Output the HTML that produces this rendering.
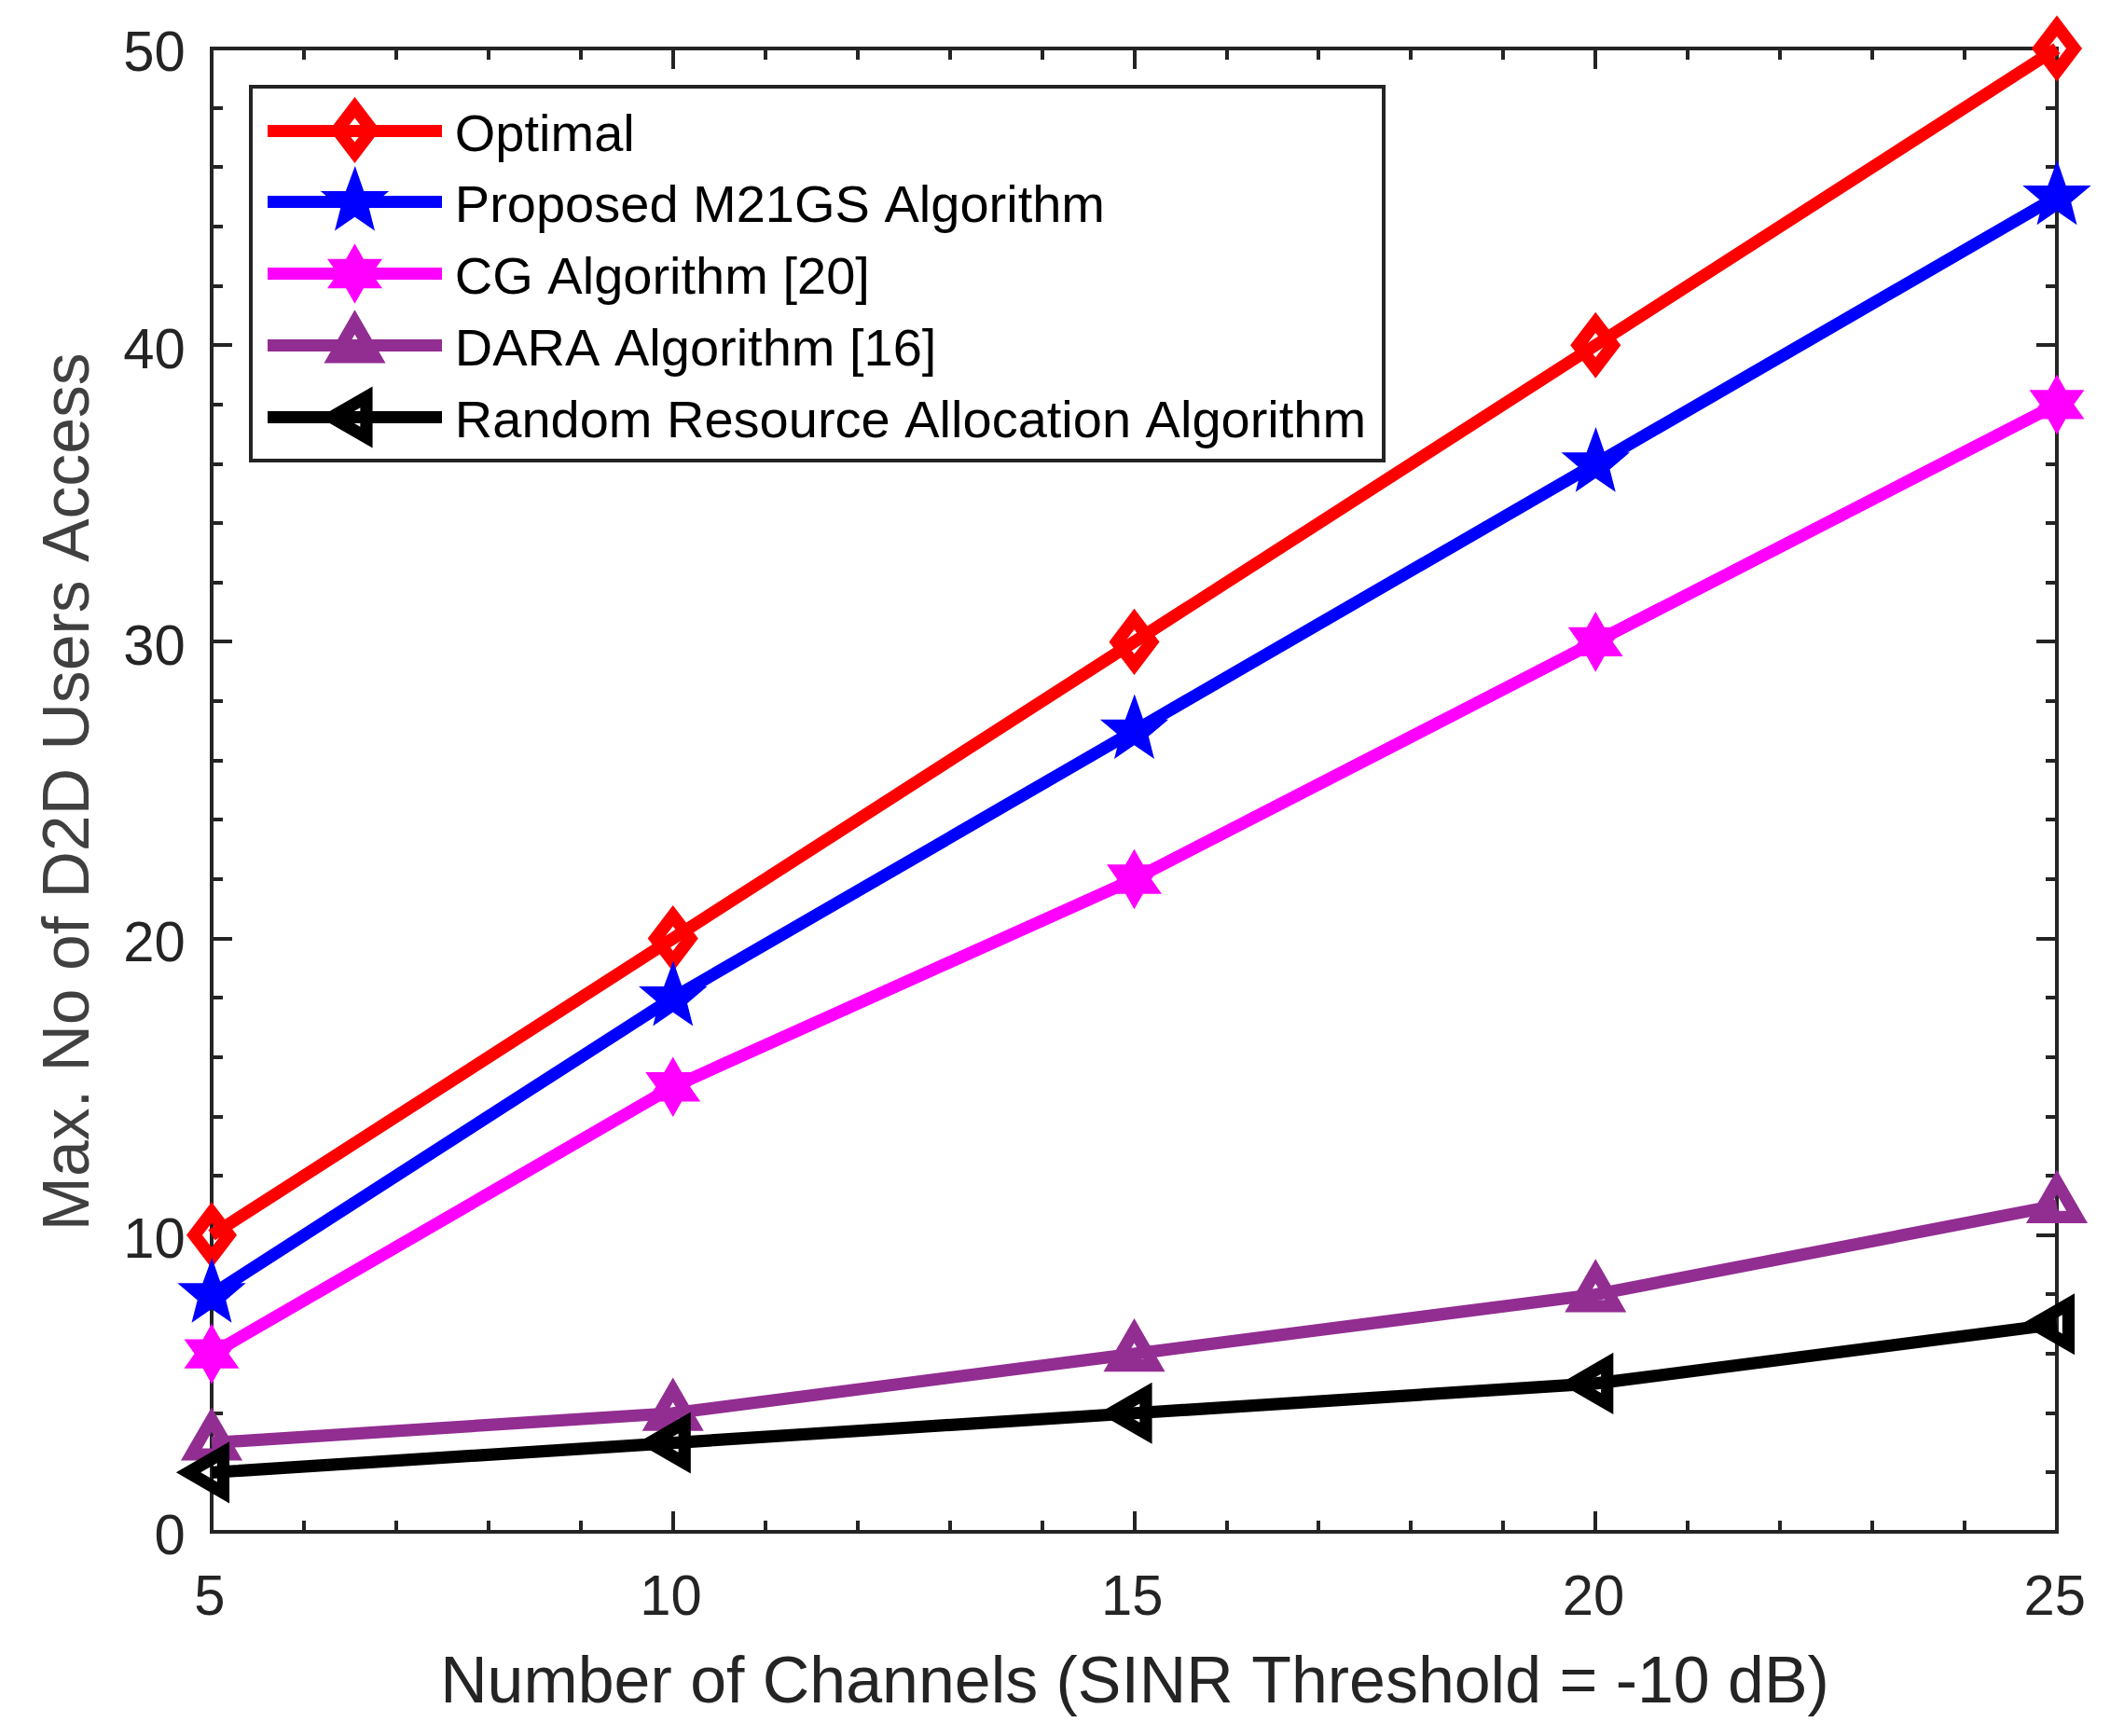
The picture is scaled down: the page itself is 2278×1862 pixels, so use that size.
<!DOCTYPE html>
<html><head><meta charset="utf-8"><title>Max. No of D2D Users Access vs Number of Channels</title>
<style>html,body{margin:0;padding:0;background:#fff;}body{width:2278px;height:1862px;overflow:hidden;}svg{display:block;}text{font-family:"Liberation Sans",Arial,sans-serif;font-kerning:none;}</style>
</head><body>
<svg width="2278" height="1862" viewBox="0 0 2278 1862">
<rect x="0" y="0" width="2278" height="1862" fill="#fff"/>
<g stroke="#242424" fill="none" shape-rendering="crispEdges">
<rect x="227.0" y="52.0" width="1979.0" height="1591.0" stroke-width="4"/>
<line x1="325.9" y1="1643.0" x2="325.9" y2="1631.0" stroke-width="4"/>
<line x1="325.9" y1="52.0" x2="325.9" y2="64.0" stroke-width="4"/>
<line x1="424.9" y1="1643.0" x2="424.9" y2="1631.0" stroke-width="4"/>
<line x1="424.9" y1="52.0" x2="424.9" y2="64.0" stroke-width="4"/>
<line x1="523.9" y1="1643.0" x2="523.9" y2="1631.0" stroke-width="4"/>
<line x1="523.9" y1="52.0" x2="523.9" y2="64.0" stroke-width="4"/>
<line x1="622.8" y1="1643.0" x2="622.8" y2="1631.0" stroke-width="4"/>
<line x1="622.8" y1="52.0" x2="622.8" y2="64.0" stroke-width="4"/>
<line x1="721.8" y1="1643.0" x2="721.8" y2="1621.0" stroke-width="4"/>
<line x1="721.8" y1="52.0" x2="721.8" y2="74.0" stroke-width="4"/>
<line x1="820.7" y1="1643.0" x2="820.7" y2="1631.0" stroke-width="4"/>
<line x1="820.7" y1="52.0" x2="820.7" y2="64.0" stroke-width="4"/>
<line x1="919.6" y1="1643.0" x2="919.6" y2="1631.0" stroke-width="4"/>
<line x1="919.6" y1="52.0" x2="919.6" y2="64.0" stroke-width="4"/>
<line x1="1018.6" y1="1643.0" x2="1018.6" y2="1631.0" stroke-width="4"/>
<line x1="1018.6" y1="52.0" x2="1018.6" y2="64.0" stroke-width="4"/>
<line x1="1117.5" y1="1643.0" x2="1117.5" y2="1631.0" stroke-width="4"/>
<line x1="1117.5" y1="52.0" x2="1117.5" y2="64.0" stroke-width="4"/>
<line x1="1216.5" y1="1643.0" x2="1216.5" y2="1621.0" stroke-width="4"/>
<line x1="1216.5" y1="52.0" x2="1216.5" y2="74.0" stroke-width="4"/>
<line x1="1315.5" y1="1643.0" x2="1315.5" y2="1631.0" stroke-width="4"/>
<line x1="1315.5" y1="52.0" x2="1315.5" y2="64.0" stroke-width="4"/>
<line x1="1414.4" y1="1643.0" x2="1414.4" y2="1631.0" stroke-width="4"/>
<line x1="1414.4" y1="52.0" x2="1414.4" y2="64.0" stroke-width="4"/>
<line x1="1513.3" y1="1643.0" x2="1513.3" y2="1631.0" stroke-width="4"/>
<line x1="1513.3" y1="52.0" x2="1513.3" y2="64.0" stroke-width="4"/>
<line x1="1612.3" y1="1643.0" x2="1612.3" y2="1631.0" stroke-width="4"/>
<line x1="1612.3" y1="52.0" x2="1612.3" y2="64.0" stroke-width="4"/>
<line x1="1711.2" y1="1643.0" x2="1711.2" y2="1621.0" stroke-width="4"/>
<line x1="1711.2" y1="52.0" x2="1711.2" y2="74.0" stroke-width="4"/>
<line x1="1810.2" y1="1643.0" x2="1810.2" y2="1631.0" stroke-width="4"/>
<line x1="1810.2" y1="52.0" x2="1810.2" y2="64.0" stroke-width="4"/>
<line x1="1909.2" y1="1643.0" x2="1909.2" y2="1631.0" stroke-width="4"/>
<line x1="1909.2" y1="52.0" x2="1909.2" y2="64.0" stroke-width="4"/>
<line x1="2008.1" y1="1643.0" x2="2008.1" y2="1631.0" stroke-width="4"/>
<line x1="2008.1" y1="52.0" x2="2008.1" y2="64.0" stroke-width="4"/>
<line x1="2107.1" y1="1643.0" x2="2107.1" y2="1631.0" stroke-width="4"/>
<line x1="2107.1" y1="52.0" x2="2107.1" y2="64.0" stroke-width="4"/>
<line x1="227.0" y1="1579.4" x2="239.0" y2="1579.4" stroke-width="4"/>
<line x1="2206.0" y1="1579.4" x2="2194.0" y2="1579.4" stroke-width="4"/>
<line x1="227.0" y1="1515.7" x2="239.0" y2="1515.7" stroke-width="4"/>
<line x1="2206.0" y1="1515.7" x2="2194.0" y2="1515.7" stroke-width="4"/>
<line x1="227.0" y1="1452.1" x2="239.0" y2="1452.1" stroke-width="4"/>
<line x1="2206.0" y1="1452.1" x2="2194.0" y2="1452.1" stroke-width="4"/>
<line x1="227.0" y1="1388.4" x2="239.0" y2="1388.4" stroke-width="4"/>
<line x1="2206.0" y1="1388.4" x2="2194.0" y2="1388.4" stroke-width="4"/>
<line x1="227.0" y1="1324.8" x2="249.0" y2="1324.8" stroke-width="4"/>
<line x1="2206.0" y1="1324.8" x2="2184.0" y2="1324.8" stroke-width="4"/>
<line x1="227.0" y1="1261.2" x2="239.0" y2="1261.2" stroke-width="4"/>
<line x1="2206.0" y1="1261.2" x2="2194.0" y2="1261.2" stroke-width="4"/>
<line x1="227.0" y1="1197.5" x2="239.0" y2="1197.5" stroke-width="4"/>
<line x1="2206.0" y1="1197.5" x2="2194.0" y2="1197.5" stroke-width="4"/>
<line x1="227.0" y1="1133.9" x2="239.0" y2="1133.9" stroke-width="4"/>
<line x1="2206.0" y1="1133.9" x2="2194.0" y2="1133.9" stroke-width="4"/>
<line x1="227.0" y1="1070.2" x2="239.0" y2="1070.2" stroke-width="4"/>
<line x1="2206.0" y1="1070.2" x2="2194.0" y2="1070.2" stroke-width="4"/>
<line x1="227.0" y1="1006.6" x2="249.0" y2="1006.6" stroke-width="4"/>
<line x1="2206.0" y1="1006.6" x2="2184.0" y2="1006.6" stroke-width="4"/>
<line x1="227.0" y1="943.0" x2="239.0" y2="943.0" stroke-width="4"/>
<line x1="2206.0" y1="943.0" x2="2194.0" y2="943.0" stroke-width="4"/>
<line x1="227.0" y1="879.3" x2="239.0" y2="879.3" stroke-width="4"/>
<line x1="2206.0" y1="879.3" x2="2194.0" y2="879.3" stroke-width="4"/>
<line x1="227.0" y1="815.7" x2="239.0" y2="815.7" stroke-width="4"/>
<line x1="2206.0" y1="815.7" x2="2194.0" y2="815.7" stroke-width="4"/>
<line x1="227.0" y1="752.0" x2="239.0" y2="752.0" stroke-width="4"/>
<line x1="2206.0" y1="752.0" x2="2194.0" y2="752.0" stroke-width="4"/>
<line x1="227.0" y1="688.4" x2="249.0" y2="688.4" stroke-width="4"/>
<line x1="2206.0" y1="688.4" x2="2184.0" y2="688.4" stroke-width="4"/>
<line x1="227.0" y1="624.8" x2="239.0" y2="624.8" stroke-width="4"/>
<line x1="2206.0" y1="624.8" x2="2194.0" y2="624.8" stroke-width="4"/>
<line x1="227.0" y1="561.1" x2="239.0" y2="561.1" stroke-width="4"/>
<line x1="2206.0" y1="561.1" x2="2194.0" y2="561.1" stroke-width="4"/>
<line x1="227.0" y1="497.5" x2="239.0" y2="497.5" stroke-width="4"/>
<line x1="2206.0" y1="497.5" x2="2194.0" y2="497.5" stroke-width="4"/>
<line x1="227.0" y1="433.8" x2="239.0" y2="433.8" stroke-width="4"/>
<line x1="2206.0" y1="433.8" x2="2194.0" y2="433.8" stroke-width="4"/>
<line x1="227.0" y1="370.2" x2="249.0" y2="370.2" stroke-width="4"/>
<line x1="2206.0" y1="370.2" x2="2184.0" y2="370.2" stroke-width="4"/>
<line x1="227.0" y1="306.6" x2="239.0" y2="306.6" stroke-width="4"/>
<line x1="2206.0" y1="306.6" x2="2194.0" y2="306.6" stroke-width="4"/>
<line x1="227.0" y1="242.9" x2="239.0" y2="242.9" stroke-width="4"/>
<line x1="2206.0" y1="242.9" x2="2194.0" y2="242.9" stroke-width="4"/>
<line x1="227.0" y1="179.3" x2="239.0" y2="179.3" stroke-width="4"/>
<line x1="2206.0" y1="179.3" x2="2194.0" y2="179.3" stroke-width="4"/>
<line x1="227.0" y1="115.6" x2="239.0" y2="115.6" stroke-width="4"/>
<line x1="2206.0" y1="115.6" x2="2194.0" y2="115.6" stroke-width="4"/>
</g>
<g fill="#242424" font-size="61.3px">
<text transform="translate(224.8,1732.3) scale(0.975,1)" text-anchor="middle">5</text>
<text transform="translate(719.5,1732.3) scale(0.975,1)" text-anchor="middle">10</text>
<text transform="translate(1214.3,1732.3) scale(0.975,1)" text-anchor="middle">15</text>
<text transform="translate(1709.0,1732.3) scale(0.975,1)" text-anchor="middle">20</text>
<text transform="translate(2203.8,1732.3) scale(0.975,1)" text-anchor="middle">25</text>
<text transform="translate(198.7,1667.4) scale(0.975,1)" text-anchor="end">0</text>
<text transform="translate(198.7,1349.2) scale(0.975,1)" text-anchor="end">10</text>
<text transform="translate(198.7,1031.0) scale(0.975,1)" text-anchor="end">20</text>
<text transform="translate(198.7,712.8) scale(0.975,1)" text-anchor="end">30</text>
<text transform="translate(198.7,394.6) scale(0.975,1)" text-anchor="end">40</text>
<text transform="translate(198.7,76.4) scale(0.975,1)" text-anchor="end">50</text>
</g>
<text x="1217" y="1826.4" text-anchor="middle" font-size="69.9px" fill="#242424">Number of Channels (SINR Threshold = -10 dB)</text>
<text transform="translate(94.9,849.2) rotate(-90)" text-anchor="middle" font-size="69.75px" fill="#404040">Max. No of D2D Users Access</text>
<polyline points="227.00,1324.80 721.75,1006.60 1216.50,688.40 1711.25,370.20 2206.00,52.00" fill="none" stroke="#ff0000" stroke-width="13.2" stroke-linejoin="round"/>
<path d="M227.00,1289.25 L254.05,1324.80 L227.00,1360.35 L199.95,1324.80 Z M227.00,1311.70 L237.00,1324.80 L227.00,1337.90 L217.00,1324.80 Z" fill="#ff0000" fill-rule="evenodd"/>
<path d="M721.75,971.05 L748.80,1006.60 L721.75,1042.15 L694.70,1006.60 Z M721.75,993.50 L731.75,1006.60 L721.75,1019.70 L711.75,1006.60 Z" fill="#ff0000" fill-rule="evenodd"/>
<path d="M1216.50,652.85 L1243.55,688.40 L1216.50,723.95 L1189.45,688.40 Z M1216.50,675.30 L1226.50,688.40 L1216.50,701.50 L1206.50,688.40 Z" fill="#ff0000" fill-rule="evenodd"/>
<path d="M1711.25,334.65 L1738.30,370.20 L1711.25,405.75 L1684.20,370.20 Z M1711.25,357.10 L1721.25,370.20 L1711.25,383.30 L1701.25,370.20 Z" fill="#ff0000" fill-rule="evenodd"/>
<path d="M2206.00,16.45 L2233.05,52.00 L2206.00,87.55 L2178.95,52.00 Z M2206.00,38.90 L2216.00,52.00 L2206.00,65.10 L2196.00,52.00 Z" fill="#ff0000" fill-rule="evenodd"/>
<polyline points="227.00,1388.44 721.75,1070.24 1216.50,783.86 1711.25,497.48 2206.00,211.10" fill="none" stroke="#0000ff" stroke-width="13.2" stroke-linejoin="round"/>
<polygon points="227.30,1349.04 236.70,1376.24 263.70,1376.24 242.30,1394.44 248.50,1418.64 227.00,1403.94 205.50,1418.64 211.70,1394.44 190.30,1376.24 217.30,1376.24" fill="#0000ff"/>
<polygon points="722.05,1030.84 731.45,1058.04 758.45,1058.04 737.05,1076.24 743.25,1100.44 721.75,1085.74 700.25,1100.44 706.45,1076.24 685.05,1058.04 712.05,1058.04" fill="#0000ff"/>
<polygon points="1216.80,744.46 1226.20,771.66 1253.20,771.66 1231.80,789.86 1238.00,814.06 1216.50,799.36 1195.00,814.06 1201.20,789.86 1179.80,771.66 1206.80,771.66" fill="#0000ff"/>
<polygon points="1711.55,458.08 1720.95,485.28 1747.95,485.28 1726.55,503.48 1732.75,527.68 1711.25,512.98 1689.75,527.68 1695.95,503.48 1674.55,485.28 1701.55,485.28" fill="#0000ff"/>
<polygon points="2206.30,171.70 2215.70,198.90 2242.70,198.90 2221.30,217.10 2227.50,241.30 2206.00,226.60 2184.50,241.30 2190.70,217.10 2169.30,198.90 2196.30,198.90" fill="#0000ff"/>
<polyline points="227.00,1452.08 721.75,1165.70 1216.50,942.96 1711.25,688.40 2206.00,433.84" fill="none" stroke="#ff00ff" stroke-width="13.2" stroke-linejoin="round"/>
<polygon points="227.00,1419.78 236.40,1436.38 256.50,1436.38 245.40,1452.08 256.50,1467.78 236.40,1467.78 227.00,1484.38 217.60,1467.78 197.50,1467.78 208.60,1452.08 197.50,1436.38 217.60,1436.38" fill="#ff00ff"/>
<polygon points="721.75,1133.40 731.15,1150.00 751.25,1150.00 740.15,1165.70 751.25,1181.40 731.15,1181.40 721.75,1198.00 712.35,1181.40 692.25,1181.40 703.35,1165.70 692.25,1150.00 712.35,1150.00" fill="#ff00ff"/>
<polygon points="1216.50,910.66 1225.90,927.26 1246.00,927.26 1234.90,942.96 1246.00,958.66 1225.90,958.66 1216.50,975.26 1207.10,958.66 1187.00,958.66 1198.10,942.96 1187.00,927.26 1207.10,927.26" fill="#ff00ff"/>
<polygon points="1711.25,656.10 1720.65,672.70 1740.75,672.70 1729.65,688.40 1740.75,704.10 1720.65,704.10 1711.25,720.70 1701.85,704.10 1681.75,704.10 1692.85,688.40 1681.75,672.70 1701.85,672.70" fill="#ff00ff"/>
<polygon points="2206.00,401.54 2215.40,418.14 2235.50,418.14 2224.40,433.84 2235.50,449.54 2215.40,449.54 2206.00,466.14 2196.60,449.54 2176.50,449.54 2187.60,433.84 2176.50,418.14 2196.60,418.14" fill="#ff00ff"/>
<polyline points="227.00,1547.54 721.75,1515.72 1216.50,1452.08 1711.25,1388.44 2206.00,1292.98" fill="none" stroke="#922d92" stroke-width="13.2" stroke-linejoin="round"/>
<path d="M227.00,1509.40 L260.03,1566.61 L193.97,1566.61 Z M227.00,1535.84 L237.13,1553.39 L216.87,1553.39 Z" fill="#922d92" fill-rule="evenodd"/>
<path d="M721.75,1477.58 L754.78,1534.79 L688.72,1534.79 Z M721.75,1504.02 L731.88,1521.57 L711.62,1521.57 Z" fill="#922d92" fill-rule="evenodd"/>
<path d="M1216.50,1413.94 L1249.53,1471.15 L1183.47,1471.15 Z M1216.50,1440.38 L1226.63,1457.93 L1206.37,1457.93 Z" fill="#922d92" fill-rule="evenodd"/>
<path d="M1711.25,1350.30 L1744.28,1407.51 L1678.22,1407.51 Z M1711.25,1376.74 L1721.38,1394.29 L1701.12,1394.29 Z" fill="#922d92" fill-rule="evenodd"/>
<path d="M2206.00,1254.84 L2239.03,1312.05 L2172.97,1312.05 Z M2206.00,1281.28 L2216.13,1298.83 L2195.87,1298.83 Z" fill="#922d92" fill-rule="evenodd"/>
<polyline points="227.00,1579.36 721.75,1547.54 1216.50,1515.72 1711.25,1483.90 2206.00,1420.26" fill="none" stroke="#000000" stroke-width="13.2" stroke-linejoin="round"/>
<path d="M188.86,1579.36 L246.07,1546.33 L246.07,1612.39 Z M215.30,1579.36 L232.85,1569.23 L232.85,1589.49 Z" fill="#000000" fill-rule="evenodd"/>
<path d="M683.61,1547.54 L740.82,1514.51 L740.82,1580.57 Z M710.05,1547.54 L727.60,1537.41 L727.60,1557.67 Z" fill="#000000" fill-rule="evenodd"/>
<path d="M1178.36,1515.72 L1235.57,1482.69 L1235.57,1548.75 Z M1204.80,1515.72 L1222.35,1505.59 L1222.35,1525.85 Z" fill="#000000" fill-rule="evenodd"/>
<path d="M1673.11,1483.90 L1730.32,1450.87 L1730.32,1516.93 Z M1699.55,1483.90 L1717.10,1473.77 L1717.10,1494.03 Z" fill="#000000" fill-rule="evenodd"/>
<path d="M2167.86,1420.26 L2225.07,1387.23 L2225.07,1453.29 Z M2194.30,1420.26 L2211.85,1410.13 L2211.85,1430.39 Z" fill="#000000" fill-rule="evenodd"/>
<rect x="269.0" y="93.0" width="1215.0" height="401.0" fill="#fff" stroke="#242424" stroke-width="4" shape-rendering="crispEdges"/>
<line x1="287" y1="140.5" x2="474" y2="140.5" stroke="#ff0000" stroke-width="13"/>
<path d="M380.50,103.95 L407.55,139.50 L380.50,175.05 L353.45,139.50 Z M380.50,126.40 L390.50,139.50 L380.50,152.60 L370.50,139.50 Z" fill="#ff0000" fill-rule="evenodd"/>
<text x="487.8" y="162.3" font-size="56px" fill="#000">Optimal</text>
<line x1="287" y1="216.5" x2="474" y2="216.5" stroke="#0000ff" stroke-width="13"/>
<polygon points="380.80,177.90 390.20,205.10 417.20,205.10 395.80,223.30 402.00,247.50 380.50,232.80 359.00,247.50 365.20,223.30 343.80,205.10 370.80,205.10" fill="#0000ff"/>
<text x="487.8" y="238.3" font-size="56px" fill="#000">Proposed M21GS Algorithm</text>
<line x1="287" y1="293.5" x2="474" y2="293.5" stroke="#ff00ff" stroke-width="13"/>
<polygon points="380.50,261.20 389.90,277.80 410.00,277.80 398.90,293.50 410.00,309.20 389.90,309.20 380.50,325.80 371.10,309.20 351.00,309.20 362.10,293.50 351.00,277.80 371.10,277.80" fill="#ff00ff"/>
<text x="487.8" y="315.3" font-size="56px" fill="#000">CG Algorithm [20]</text>
<line x1="287" y1="370.5" x2="474" y2="370.5" stroke="#922d92" stroke-width="13"/>
<path d="M380.50,332.36 L413.53,389.57 L347.47,389.57 Z M380.50,358.80 L390.63,376.35 L370.37,376.35 Z" fill="#922d92" fill-rule="evenodd"/>
<text x="487.8" y="392.3" font-size="56px" fill="#000">DARA Algorithm [16]</text>
<line x1="287" y1="447.5" x2="474" y2="447.5" stroke="#000000" stroke-width="13"/>
<path d="M342.36,447.50 L399.57,414.47 L399.57,480.53 Z M368.80,447.50 L386.35,437.37 L386.35,457.63 Z" fill="#000000" fill-rule="evenodd"/>
<text x="487.8" y="469.3" font-size="56px" fill="#000">Random Resource Allocation Algorithm</text>
</svg>
</body></html>
